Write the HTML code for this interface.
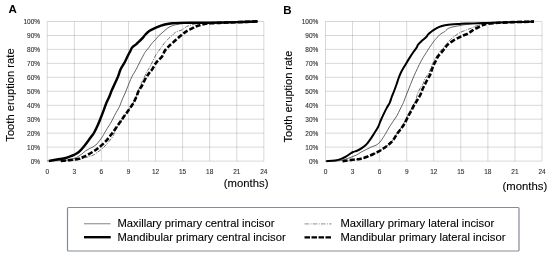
<!DOCTYPE html>
<html><head><meta charset="utf-8"><title>Tooth eruption rate</title>
<style>
html,body{margin:0;padding:0;background:#fff;}
svg{display:block;font-family:"Liberation Sans",sans-serif;}
.g{stroke:#000;stroke-opacity:0.26;stroke-width:0.6}
.t{font-size:6.5px;fill:#333;stroke:#333;stroke-width:0.12}
.m{font-size:11.3px;fill:#000;stroke:#000;stroke-width:0.1}
.yl{font-size:11.3px;fill:#000;stroke:#000;stroke-width:0.1}
.lab{font-size:11.5px;font-weight:bold;fill:#000}
.lg{font-size:11.21px;fill:#000;stroke:#000;stroke-width:0.1}
.c{fill:none;stroke:#000;stroke-linejoin:round;stroke-linecap:butt}
.thick{}
.thin{stroke-width:0.7;stroke:#222}
.dash{stroke-width:2.6;stroke-dasharray:5.1 2.0}
.dd{stroke-width:0.7;stroke:#333;stroke-dasharray:4 1.2 1 1.2}
</style></head><body>
<svg width="550" height="256" viewBox="0 0 550 256">
<rect width="550" height="256" fill="#fff"/>
<text x="8.5" y="12.6" class="lab">A</text>
<text x="283.2" y="13.8" class="lab">B</text>
<line x1="47.25" y1="21.5" x2="263.85" y2="21.5" class="g"/>
<line x1="47.25" y1="35.5" x2="263.85" y2="35.5" class="g"/>
<line x1="47.25" y1="49.4" x2="263.85" y2="49.4" class="g"/>
<line x1="47.25" y1="63.4" x2="263.85" y2="63.4" class="g"/>
<line x1="47.25" y1="77.3" x2="263.85" y2="77.3" class="g"/>
<line x1="47.25" y1="91.3" x2="263.85" y2="91.3" class="g"/>
<line x1="47.25" y1="105.3" x2="263.85" y2="105.3" class="g"/>
<line x1="47.25" y1="119.2" x2="263.85" y2="119.2" class="g"/>
<line x1="47.25" y1="133.2" x2="263.85" y2="133.2" class="g"/>
<line x1="47.25" y1="147.1" x2="263.85" y2="147.1" class="g"/>
<line x1="47.25" y1="161.1" x2="263.85" y2="161.1" class="g"/>
<line x1="47.25" y1="21.5" x2="47.25" y2="161.1" class="g"/>
<line x1="74.33" y1="21.5" x2="74.33" y2="161.1" class="g"/>
<line x1="101.40" y1="21.5" x2="101.40" y2="161.1" class="g"/>
<line x1="128.48" y1="21.5" x2="128.48" y2="161.1" class="g"/>
<line x1="155.55" y1="21.5" x2="155.55" y2="161.1" class="g"/>
<line x1="182.62" y1="21.5" x2="182.62" y2="161.1" class="g"/>
<line x1="209.70" y1="21.5" x2="209.70" y2="161.1" class="g"/>
<line x1="236.78" y1="21.5" x2="236.78" y2="161.1" class="g"/>
<line x1="263.85" y1="21.5" x2="263.85" y2="161.1" class="g"/>
<text x="40.05" y="24" class="t" text-anchor="end">100%</text>
<text x="40.05" y="38" class="t" text-anchor="end">90%</text>
<text x="40.05" y="52" class="t" text-anchor="end">80%</text>
<text x="40.05" y="66" class="t" text-anchor="end">70%</text>
<text x="40.05" y="80" class="t" text-anchor="end">60%</text>
<text x="40.05" y="94" class="t" text-anchor="end">50%</text>
<text x="40.05" y="108" class="t" text-anchor="end">40%</text>
<text x="40.05" y="122" class="t" text-anchor="end">30%</text>
<text x="40.05" y="136" class="t" text-anchor="end">20%</text>
<text x="40.05" y="150" class="t" text-anchor="end">10%</text>
<text x="40.05" y="164" class="t" text-anchor="end">0%</text>
<text x="47.25" y="173.6" class="t" text-anchor="middle">0</text>
<text x="74.33" y="173.6" class="t" text-anchor="middle">3</text>
<text x="101.40" y="173.6" class="t" text-anchor="middle">6</text>
<text x="128.48" y="173.6" class="t" text-anchor="middle">9</text>
<text x="155.55" y="173.6" class="t" text-anchor="middle">12</text>
<text x="182.62" y="173.6" class="t" text-anchor="middle">15</text>
<text x="209.70" y="173.6" class="t" text-anchor="middle">18</text>
<text x="236.78" y="173.6" class="t" text-anchor="middle">21</text>
<text x="263.85" y="173.6" class="t" text-anchor="middle">24</text>
<text x="268.45" y="187.4" class="m" text-anchor="end">(months)</text>
<text transform="translate(13.5,95.05) rotate(-90)" class="yl" style="font-size:11.2px" text-anchor="middle">Tooth eruption rate</text>
<path d="M62.50,161.00C65.00,160.78 73.33,160.37 77.50,159.70C81.67,159.03 84.88,157.77 87.50,157.00C90.12,156.23 91.67,155.83 93.25,155.10C94.83,154.37 95.54,153.63 97.00,152.60C98.46,151.57 100.43,150.25 102.00,148.90C103.57,147.55 105.05,145.97 106.40,144.50C107.75,143.03 108.96,141.56 110.10,140.10C111.24,138.64 112.18,137.77 113.25,135.75C114.32,133.73 115.24,130.39 116.50,128.00C117.76,125.61 119.35,123.55 120.80,121.40C122.25,119.25 123.77,117.18 125.20,115.10C126.63,113.02 128.08,110.88 129.40,108.90C130.72,106.93 132.00,105.23 133.10,103.25C134.20,101.27 135.13,99.08 136.00,97.00C136.87,94.92 137.55,92.75 138.30,90.75C139.05,88.75 139.80,86.67 140.50,85.00C141.20,83.33 141.75,82.29 142.50,80.75C143.25,79.21 144.33,77.21 145.00,75.75C145.67,74.29 145.92,73.08 146.50,72.00C147.08,70.92 147.50,70.96 148.50,69.25C149.50,67.54 151.21,64.25 152.50,61.75C153.79,59.25 154.93,56.44 156.25,54.25C157.57,52.06 159.03,50.48 160.40,48.60C161.78,46.73 163.13,44.68 164.50,43.00C165.87,41.32 167.25,39.83 168.60,38.50C169.95,37.17 171.57,35.95 172.60,35.00C173.62,34.05 173.87,33.42 174.75,32.80C175.63,32.17 176.86,31.67 177.90,31.25C178.94,30.83 180.07,30.72 181.00,30.30C181.93,29.88 182.57,29.37 183.50,28.75C184.43,28.13 185.56,27.18 186.60,26.60C187.64,26.03 188.77,25.63 189.75,25.30C190.73,24.97 191.29,24.86 192.50,24.60C193.71,24.34 195.42,23.95 197.00,23.75C198.58,23.55 199.00,23.57 202.00,23.40C205.00,23.22 209.21,22.92 215.00,22.70C220.79,22.48 229.65,22.32 236.75,22.10C243.85,21.88 254.13,21.52 257.60,21.40" class="c dd"/>
<path d="M47.25,161.00C49.38,160.93 56.62,160.77 60.00,160.60C63.38,160.43 65.17,160.35 67.50,160.00C69.83,159.65 72.21,159.08 74.00,158.50C75.79,157.92 76.92,157.27 78.25,156.50C79.58,155.73 80.75,154.86 82.00,153.90C83.25,152.94 84.29,151.73 85.75,150.75C87.21,149.77 89.08,148.94 90.75,148.00C92.42,147.06 94.29,146.31 95.75,145.10C97.21,143.89 98.36,142.20 99.50,140.75C100.64,139.30 101.78,137.65 102.60,136.40C103.42,135.15 103.48,134.82 104.40,133.25C105.32,131.68 106.96,128.88 108.10,127.00C109.24,125.12 110.20,123.88 111.25,122.00C112.30,120.12 113.36,117.73 114.40,115.75C115.44,113.77 116.57,111.81 117.50,110.10C118.43,108.39 119.42,106.75 120.00,105.50C120.58,104.25 120.48,103.92 121.00,102.60C121.52,101.28 122.33,99.37 123.10,97.60C123.87,95.83 124.77,93.97 125.60,92.00C126.43,90.03 127.27,87.83 128.10,85.75C128.93,83.67 129.77,81.38 130.60,79.50C131.43,77.62 132.16,76.21 133.10,74.50C134.04,72.79 135.10,71.38 136.25,69.25C137.40,67.12 138.75,64.19 140.00,61.75C141.25,59.31 142.83,56.29 143.75,54.60C144.67,52.91 144.69,52.72 145.50,51.60C146.31,50.48 147.56,49.25 148.60,47.90C149.64,46.55 150.60,44.88 151.75,43.50C152.90,42.12 154.25,40.98 155.50,39.60C156.75,38.23 158.02,36.48 159.25,35.25C160.48,34.02 161.78,33.18 162.90,32.20C164.03,31.23 164.97,30.23 166.00,29.40C167.03,28.57 167.85,27.88 169.10,27.20C170.35,26.52 172.03,25.77 173.50,25.30C174.97,24.83 176.44,24.67 177.90,24.40C179.36,24.13 180.23,23.95 182.25,23.70C184.27,23.45 185.38,23.07 190.00,22.90C194.62,22.73 202.21,22.83 210.00,22.70C217.79,22.57 228.82,22.32 236.75,22.10C244.68,21.88 254.13,21.52 257.60,21.40" class="c thin"/>
<path d="M60.75,161.00C62.21,160.85 66.58,160.45 69.50,160.10C72.42,159.75 75.96,159.42 78.25,158.90C80.54,158.38 81.58,157.73 83.25,157.00C84.92,156.27 86.38,155.54 88.25,154.50C90.12,153.46 92.62,152.00 94.50,150.75C96.38,149.50 97.83,148.36 99.50,147.00C101.17,145.64 102.93,144.17 104.50,142.60C106.07,141.03 107.62,139.16 108.90,137.60C110.18,136.04 110.98,134.92 112.20,133.25C113.42,131.58 114.85,129.57 116.25,127.60C117.65,125.62 119.14,123.48 120.60,121.40C122.06,119.32 123.53,117.18 125.00,115.10C126.47,113.02 128.00,110.92 129.40,108.90C130.80,106.88 132.26,104.98 133.40,103.00C134.54,101.02 135.36,99.04 136.25,97.00C137.14,94.96 137.81,92.62 138.75,90.75C139.69,88.88 140.86,87.62 141.90,85.75C142.94,83.88 143.97,81.38 145.00,79.50C146.03,77.62 147.27,75.75 148.10,74.50C148.93,73.25 149.31,72.88 150.00,72.00C150.69,71.12 151.42,70.54 152.25,69.25C153.08,67.96 154.12,65.61 155.00,64.25C155.88,62.89 156.35,62.35 157.50,61.10C158.65,59.85 160.65,58.52 161.90,56.75C163.15,54.98 163.82,52.27 165.00,50.50C166.18,48.73 167.75,47.35 169.00,46.10C170.25,44.85 171.00,44.35 172.50,43.00C174.00,41.65 176.33,39.46 178.00,38.00C179.67,36.54 181.04,35.40 182.50,34.25C183.96,33.10 185.21,32.04 186.75,31.10C188.29,30.16 190.25,29.37 191.75,28.60C193.25,27.83 194.46,27.06 195.75,26.50C197.04,25.94 198.04,25.68 199.50,25.25C200.96,24.82 202.62,24.22 204.50,23.90C206.38,23.57 207.62,23.50 210.75,23.30C213.88,23.10 218.92,22.88 223.25,22.70C227.58,22.52 231.03,22.42 236.75,22.20C242.47,21.98 254.13,21.53 257.60,21.40" class="c dash"/>
<path d="M48.90,161.00C50.25,160.75 54.19,160.00 57.00,159.50C59.81,159.00 63.25,158.62 65.75,158.00C68.25,157.38 70.12,156.54 72.00,155.75C73.88,154.96 75.54,154.19 77.00,153.25C78.46,152.31 79.50,151.35 80.75,150.10C82.00,148.85 83.25,147.31 84.50,145.75C85.75,144.19 87.10,142.31 88.25,140.75C89.40,139.19 90.48,137.65 91.40,136.40C92.32,135.15 92.73,135.03 93.75,133.25C94.77,131.47 96.36,128.25 97.50,125.75C98.64,123.25 99.56,120.86 100.60,118.25C101.64,115.64 102.81,112.60 103.75,110.10C104.69,107.60 105.31,105.53 106.25,103.25C107.19,100.97 108.46,98.59 109.40,96.40C110.34,94.21 110.97,92.29 111.90,90.10C112.83,87.91 113.97,85.53 115.00,83.25C116.03,80.97 117.17,78.73 118.10,76.40C119.03,74.07 119.45,71.69 120.60,69.25C121.75,66.81 123.67,64.26 125.00,61.75C126.33,59.24 127.73,55.93 128.60,54.20C129.47,52.48 129.62,52.52 130.20,51.40C130.78,50.28 131.12,48.67 132.10,47.50C133.08,46.33 134.91,45.43 136.10,44.40C137.29,43.37 138.10,42.42 139.25,41.30C140.40,40.18 142.04,38.75 143.00,37.70C143.96,36.65 143.96,36.12 145.00,35.00C146.04,33.88 147.60,32.15 149.25,31.00C150.90,29.85 152.94,28.98 154.90,28.10C156.86,27.22 159.15,26.35 161.00,25.70C162.85,25.05 164.12,24.60 166.00,24.20C167.88,23.80 169.83,23.52 172.25,23.30C174.67,23.08 177.46,22.95 180.50,22.85C183.54,22.75 185.58,22.73 190.50,22.70C195.42,22.67 202.29,22.80 210.00,22.70C217.71,22.60 228.82,22.32 236.75,22.10C244.68,21.88 254.13,21.52 257.60,21.40" class="c thick" stroke-width="2.45"/>
<line x1="325.5" y1="21.5" x2="542.0" y2="21.5" class="g"/>
<line x1="325.5" y1="35.5" x2="542.0" y2="35.5" class="g"/>
<line x1="325.5" y1="49.4" x2="542.0" y2="49.4" class="g"/>
<line x1="325.5" y1="63.4" x2="542.0" y2="63.4" class="g"/>
<line x1="325.5" y1="77.3" x2="542.0" y2="77.3" class="g"/>
<line x1="325.5" y1="91.3" x2="542.0" y2="91.3" class="g"/>
<line x1="325.5" y1="105.3" x2="542.0" y2="105.3" class="g"/>
<line x1="325.5" y1="119.2" x2="542.0" y2="119.2" class="g"/>
<line x1="325.5" y1="133.2" x2="542.0" y2="133.2" class="g"/>
<line x1="325.5" y1="147.1" x2="542.0" y2="147.1" class="g"/>
<line x1="325.5" y1="161.1" x2="542.0" y2="161.1" class="g"/>
<line x1="325.50" y1="21.5" x2="325.50" y2="161.1" class="g"/>
<line x1="352.56" y1="21.5" x2="352.56" y2="161.1" class="g"/>
<line x1="379.62" y1="21.5" x2="379.62" y2="161.1" class="g"/>
<line x1="406.69" y1="21.5" x2="406.69" y2="161.1" class="g"/>
<line x1="433.75" y1="21.5" x2="433.75" y2="161.1" class="g"/>
<line x1="460.81" y1="21.5" x2="460.81" y2="161.1" class="g"/>
<line x1="487.88" y1="21.5" x2="487.88" y2="161.1" class="g"/>
<line x1="514.94" y1="21.5" x2="514.94" y2="161.1" class="g"/>
<line x1="542.00" y1="21.5" x2="542.00" y2="161.1" class="g"/>
<text x="318.30" y="24" class="t" text-anchor="end">100%</text>
<text x="318.30" y="38" class="t" text-anchor="end">90%</text>
<text x="318.30" y="52" class="t" text-anchor="end">80%</text>
<text x="318.30" y="66" class="t" text-anchor="end">70%</text>
<text x="318.30" y="80" class="t" text-anchor="end">60%</text>
<text x="318.30" y="94" class="t" text-anchor="end">50%</text>
<text x="318.30" y="108" class="t" text-anchor="end">40%</text>
<text x="318.30" y="122" class="t" text-anchor="end">30%</text>
<text x="318.30" y="136" class="t" text-anchor="end">20%</text>
<text x="318.30" y="150" class="t" text-anchor="end">10%</text>
<text x="318.30" y="164" class="t" text-anchor="end">0%</text>
<text x="325.50" y="173.6" class="t" text-anchor="middle">0</text>
<text x="352.56" y="173.6" class="t" text-anchor="middle">3</text>
<text x="379.62" y="173.6" class="t" text-anchor="middle">6</text>
<text x="406.69" y="173.6" class="t" text-anchor="middle">9</text>
<text x="433.75" y="173.6" class="t" text-anchor="middle">12</text>
<text x="460.81" y="173.6" class="t" text-anchor="middle">15</text>
<text x="487.88" y="173.6" class="t" text-anchor="middle">18</text>
<text x="514.94" y="173.6" class="t" text-anchor="middle">21</text>
<text x="542.00" y="173.6" class="t" text-anchor="middle">24</text>
<text x="547.2" y="189.8" class="m" text-anchor="end">(months)</text>
<text transform="translate(291.6,96.6) rotate(-90)" class="yl" style="font-size:11.0px" text-anchor="middle">Tooth eruption rate</text>
<path d="M343.25,161.20C344.79,161.03 349.71,160.53 352.50,160.20C355.29,159.87 357.71,159.67 360.00,159.20C362.29,158.73 364.17,158.13 366.25,157.40C368.33,156.67 370.42,155.77 372.50,154.80C374.58,153.83 376.88,152.67 378.75,151.60C380.62,150.53 382.08,149.58 383.75,148.40C385.42,147.22 387.21,145.90 388.75,144.50C390.29,143.10 391.62,141.88 393.00,140.00C394.38,138.12 395.63,135.32 397.00,133.25C398.37,131.18 399.98,129.38 401.20,127.60C402.42,125.82 403.28,124.47 404.30,122.60C405.32,120.73 406.27,118.38 407.30,116.40C408.33,114.43 409.55,112.53 410.50,110.75C411.45,108.97 412.25,107.21 413.00,105.75C413.75,104.29 414.42,103.38 415.00,102.00C415.58,100.62 416.00,99.07 416.50,97.50C417.00,95.93 417.33,94.25 418.00,92.60C418.67,90.95 419.67,89.05 420.50,87.60C421.33,86.15 422.27,85.35 423.00,83.90C423.73,82.45 424.17,80.37 424.90,78.90C425.63,77.43 426.67,76.25 427.40,75.10C428.12,73.95 428.57,73.43 429.25,72.00C429.93,70.57 430.75,68.29 431.50,66.50C432.25,64.71 432.75,63.17 433.75,61.25C434.75,59.33 436.25,56.88 437.50,55.00C438.75,53.12 440.12,51.40 441.25,50.00C442.38,48.60 443.26,47.83 444.30,46.60C445.34,45.37 446.45,43.80 447.50,42.60C448.55,41.40 449.25,40.60 450.60,39.40C451.95,38.20 453.93,36.59 455.60,35.40C457.27,34.21 458.72,33.19 460.60,32.25C462.48,31.31 465.02,30.48 466.90,29.75C468.78,29.02 470.55,28.47 471.90,27.90C473.25,27.32 473.65,26.82 475.00,26.30C476.35,25.78 477.92,25.28 480.00,24.80C482.08,24.32 484.17,23.77 487.50,23.40C490.83,23.03 495.46,22.82 500.00,22.60C504.54,22.38 509.08,22.27 514.75,22.10C520.42,21.93 530.79,21.68 534.00,21.60" class="c dd"/>
<path d="M325.50,161.20C327.58,161.15 334.75,161.22 338.00,160.90C341.25,160.58 343.00,159.85 345.00,159.30C347.00,158.75 348.12,158.30 350.00,157.60C351.88,156.90 354.38,156.03 356.25,155.10C358.12,154.17 359.58,152.93 361.25,152.00C362.92,151.07 364.58,150.33 366.25,149.50C367.92,148.67 369.58,147.73 371.25,147.00C372.92,146.27 374.79,145.93 376.25,145.10C377.71,144.27 378.86,143.25 380.00,142.00C381.14,140.75 382.17,139.00 383.10,137.60C384.03,136.20 384.55,135.37 385.60,133.60C386.65,131.83 388.15,129.03 389.40,127.00C390.65,124.97 391.85,123.28 393.10,121.40C394.35,119.53 395.75,117.73 396.90,115.75C398.05,113.77 399.07,111.38 400.00,109.50C400.93,107.62 401.92,105.67 402.50,104.50C403.08,103.33 403.00,103.75 403.50,102.50C404.00,101.25 404.75,98.96 405.50,97.00C406.25,95.04 407.17,92.83 408.00,90.75C408.83,88.67 409.67,86.58 410.50,84.50C411.33,82.42 412.13,80.30 413.00,78.25C413.87,76.20 414.63,74.51 415.70,72.20C416.77,69.89 418.17,66.85 419.40,64.40C420.63,61.95 421.78,59.73 423.10,57.50C424.42,55.27 426.25,52.65 427.30,51.00C428.35,49.35 428.32,49.20 429.40,47.60C430.47,46.00 432.57,42.97 433.75,41.40C434.93,39.83 435.56,39.27 436.50,38.20C437.44,37.13 438.40,35.90 439.40,35.00C440.40,34.10 441.65,33.33 442.50,32.80C443.35,32.27 443.72,32.40 444.50,31.80C445.28,31.20 446.23,29.90 447.20,29.20C448.17,28.50 449.17,28.02 450.30,27.60C451.43,27.18 452.38,27.03 454.00,26.70C455.62,26.37 457.96,25.97 460.00,25.60C462.04,25.23 463.12,24.88 466.25,24.50C469.38,24.12 475.21,23.60 478.75,23.35C482.29,23.10 483.96,23.12 487.50,23.00C491.04,22.88 495.46,22.75 500.00,22.60C504.54,22.45 509.08,22.27 514.75,22.10C520.42,21.93 530.79,21.68 534.00,21.60" class="c thin"/>
<path d="M342.50,161.20C344.17,160.96 349.58,160.13 352.50,159.75C355.42,159.37 357.71,159.36 360.00,158.90C362.29,158.44 364.17,157.73 366.25,157.00C368.33,156.27 370.42,155.43 372.50,154.50C374.58,153.57 376.88,152.44 378.75,151.40C380.62,150.36 382.08,149.40 383.75,148.25C385.42,147.10 387.19,145.86 388.75,144.50C390.31,143.14 391.64,141.97 393.10,140.10C394.56,138.22 396.03,135.33 397.50,133.25C398.97,131.17 400.65,129.38 401.90,127.60C403.15,125.82 403.97,124.47 405.00,122.60C406.03,120.73 407.06,118.38 408.10,116.40C409.14,114.43 410.31,112.53 411.25,110.75C412.19,108.97 412.99,107.11 413.75,105.75C414.51,104.39 415.09,103.74 415.80,102.60C416.51,101.46 417.22,100.25 418.00,98.90C418.78,97.55 419.77,96.07 420.50,94.50C421.23,92.93 421.67,91.17 422.40,89.50C423.13,87.83 424.07,86.17 424.90,84.50C425.73,82.83 426.57,81.07 427.40,79.50C428.23,77.93 429.27,76.42 429.90,75.10C430.53,73.78 430.67,73.07 431.20,71.60C431.73,70.12 432.37,67.97 433.10,66.25C433.83,64.53 434.77,62.92 435.60,61.25C436.43,59.58 437.05,57.81 438.10,56.25C439.15,54.69 440.78,53.23 441.90,51.90C443.02,50.57 443.87,49.47 444.80,48.30C445.73,47.13 446.22,46.10 447.50,44.90C448.78,43.70 450.62,42.30 452.50,41.10C454.38,39.90 457.00,38.62 458.75,37.70C460.50,36.78 461.54,36.23 463.00,35.60C464.46,34.97 466.33,34.47 467.50,33.90C468.67,33.33 469.17,32.78 470.00,32.20C470.83,31.62 471.67,30.97 472.50,30.40C473.33,29.83 473.75,29.45 475.00,28.80C476.25,28.15 478.54,27.17 480.00,26.50C481.46,25.83 482.50,25.25 483.75,24.80C485.00,24.35 485.62,24.10 487.50,23.80C489.38,23.50 492.92,23.18 495.00,23.00C497.08,22.82 496.71,22.85 500.00,22.70C503.29,22.55 509.08,22.28 514.75,22.10C520.42,21.92 530.79,21.68 534.00,21.60" class="c dash"/>
<path d="M326.25,161.20C327.71,161.08 332.50,160.88 335.00,160.50C337.50,160.12 339.38,159.58 341.25,158.90C343.12,158.22 344.79,157.23 346.25,156.40C347.71,155.57 348.86,154.63 350.00,153.90C351.14,153.17 351.85,152.57 353.10,152.00C354.35,151.43 355.93,151.23 357.50,150.50C359.07,149.77 360.93,148.70 362.50,147.60C364.07,146.50 365.55,145.35 366.90,143.90C368.25,142.45 369.57,140.37 370.60,138.90C371.63,137.43 372.42,136.15 373.10,135.10C373.78,134.05 373.87,133.95 374.70,132.60C375.53,131.25 377.12,128.97 378.10,127.00C379.08,125.03 379.66,122.93 380.60,120.75C381.54,118.57 382.70,116.09 383.75,113.90C384.80,111.71 385.89,109.48 386.90,107.60C387.91,105.72 389.00,104.37 389.80,102.60C390.60,100.83 390.97,98.97 391.70,97.00C392.43,95.03 393.40,92.83 394.20,90.75C395.00,88.67 395.77,86.58 396.50,84.50C397.23,82.42 397.80,80.37 398.60,78.25C399.40,76.13 400.13,74.11 401.30,71.80C402.47,69.49 404.25,66.68 405.60,64.40C406.95,62.12 408.04,60.25 409.40,58.10C410.76,55.95 412.55,53.25 413.75,51.50C414.95,49.75 415.88,48.73 416.60,47.60C417.33,46.47 417.22,45.84 418.10,44.70C418.98,43.56 420.54,42.03 421.90,40.75C423.26,39.47 425.22,38.06 426.25,37.00C427.28,35.94 427.38,35.18 428.10,34.40C428.83,33.62 429.77,32.98 430.60,32.30C431.43,31.62 431.74,31.15 433.10,30.30C434.46,29.45 436.77,28.03 438.75,27.20C440.73,26.37 442.50,25.79 445.00,25.30C447.50,24.81 451.25,24.48 453.75,24.25C456.25,24.02 457.92,24.01 460.00,23.90C462.08,23.79 463.12,23.72 466.25,23.60C469.38,23.48 475.21,23.30 478.75,23.20C482.29,23.10 483.96,23.10 487.50,23.00C491.04,22.90 495.46,22.75 500.00,22.60C504.54,22.45 509.08,22.27 514.75,22.10C520.42,21.93 530.79,21.68 534.00,21.60" class="c thick" stroke-width="2.0"/>
<rect x="67.5" y="207.5" width="451.5" height="43.5" rx="1" fill="#fff" stroke="#858b94" stroke-width="1.2"/>
<line x1="84" y1="223.7" x2="110.5" y2="223.7" stroke="#a0a0a0" stroke-width="1.3"/>
<line x1="84" y1="237.2" x2="110.75" y2="237.2" stroke="#000" stroke-width="2.4"/>
<line x1="304.5" y1="223.8" x2="331.6" y2="223.8" stroke="#a6a6a6" stroke-width="1.25" stroke-dasharray="4.6 1.5 0.9 1.2"/>
<line x1="304.5" y1="237.25" x2="331" y2="237.25" stroke="#000" stroke-width="2.25" stroke-dasharray="5.5 1.5"/>
<text x="117.5" y="227" class="lg">Maxillary primary central incisor</text>
<text x="117.5" y="241" class="lg">Mandibular primary central incisor</text>
<text x="340.4" y="227" class="lg">Maxillary primary lateral incisor</text>
<text x="340.4" y="241" class="lg">Mandibular primary lateral incisor</text>
</svg>
</body></html>
